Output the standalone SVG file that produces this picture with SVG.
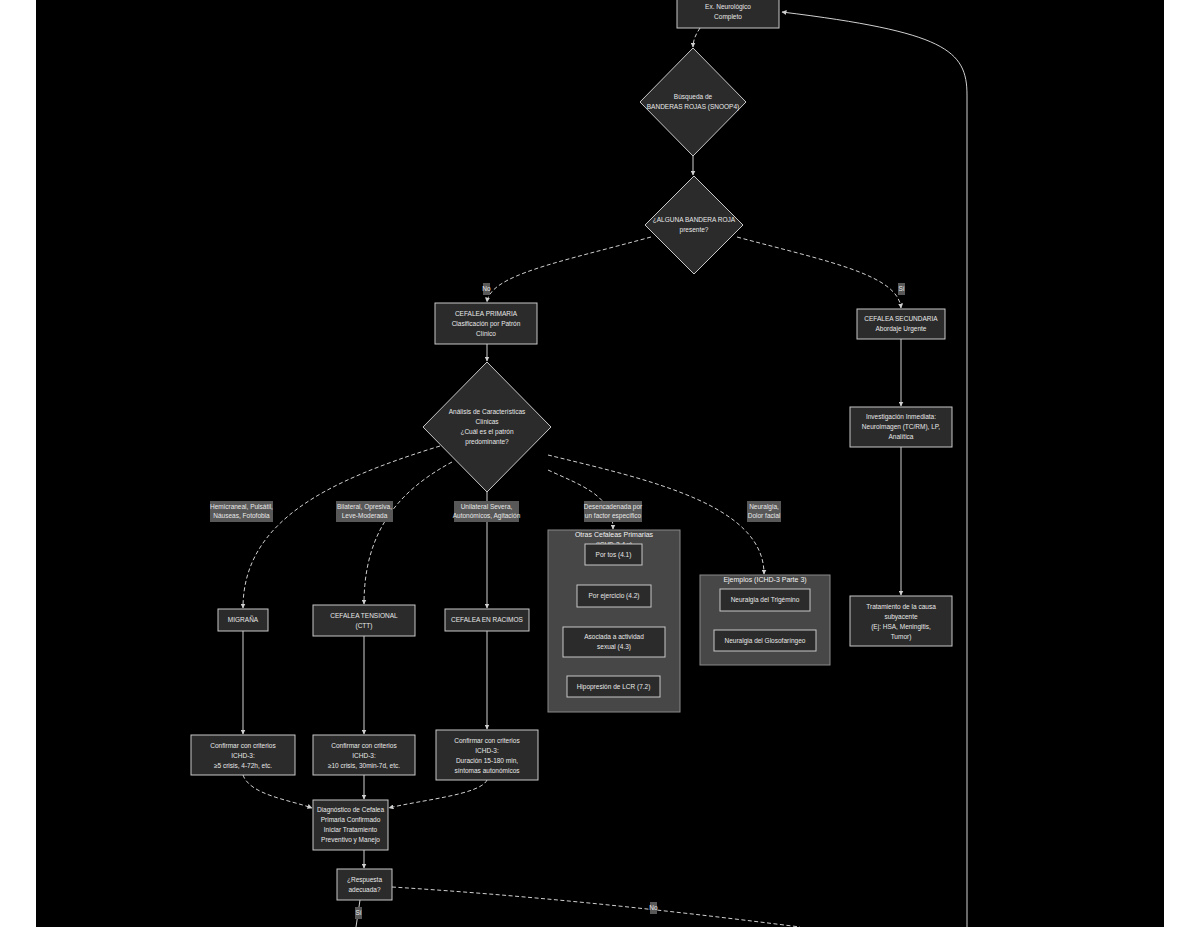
<svg xmlns="http://www.w3.org/2000/svg" width="1200" height="927" viewBox="0 0 1200 927">
<defs>
<style>
.bg{fill:#000}
.n{fill:#2b2b2b;stroke:#c8c8c8;stroke-width:1}
.t{font-family:"Liberation Sans",Arial,sans-serif;font-size:6.5px;fill:#e8e8e8;text-anchor:middle}
.e{fill:none;stroke:#d0d0d0;stroke-width:1}
.d{stroke-dasharray:4 2.5}
.lb{fill:#585858}
.cl{fill:#474747;stroke:#8a8a8a;stroke-width:1}
.ct{font-family:"Liberation Sans",Arial,sans-serif;font-size:7px;fill:#f2f2f2;text-anchor:middle}
</style>
<marker id="a" viewBox="0 0 10 10" refX="9" refY="5" markerWidth="5" markerHeight="5" orient="auto"><path d="M0,0 L10,5 L0,10 z" fill="#d0d0d0"/></marker>
</defs>
<rect x="0" y="0" width="1200" height="927" fill="#fff"/>
<rect x="36" y="0" width="1128" height="927" class="bg"/>

<g id="clusters">
<g id="cluster-otras">
<rect class="cl" x="548" y="530" width="132" height="182"/>
<text class="ct" x="614" y="537">Otras Cefaleas Primarias</text>
<text class="t" x="614" y="547">(ICHD-3 4.x)</text>
</g>
<g id="cluster-ejemplos">
<rect class="cl" x="700" y="575" width="130" height="90"/>
<text class="ct" x="765" y="582">Ejemplos (ICHD-3 Parte 3)</text>
</g>
</g>

<g id="connectors">
<path class="e d" d="M700,28 C696,34 693,40 693,47" marker-end="url(#a)"/>
<path class="e" d="M693,156 L693,175" marker-end="url(#a)"/>
<path class="e d" d="M651,237 C560,262 490,275 487,302" marker-end="url(#a)"/>
<path class="e d" d="M737,237 C830,262 898,275 901,308" marker-end="url(#a)"/>
<path class="e" d="M487,344 L487,361" marker-end="url(#a)"/>
<path class="e" d="M901,339 L901,406" marker-end="url(#a)"/>
<path class="e" d="M901,447 L901,595" marker-end="url(#a)"/>
<path class="e d" d="M440,446 C330,480 243,520 243,608" marker-end="url(#a)"/>
<path class="e d" d="M452,462 C400,490 364,530 364,604" marker-end="url(#a)"/>
<path class="e" d="M487,492 L487,608" marker-end="url(#a)"/>
<path class="e d" d="M548,470 C580,485 613,495 613,529" marker-end="url(#a)"/>
<path class="e d" d="M548,455 C650,480 764,505 764,574" marker-end="url(#a)"/>
<path class="e" d="M243,631 L243,734" marker-end="url(#a)"/>
<path class="e" d="M364,636 L364,734" marker-end="url(#a)"/>
<path class="e" d="M487,631 L487,729" marker-end="url(#a)"/>
<path class="e d" d="M243,775 C250,795 290,800 312,808" marker-end="url(#a)"/>
<path class="e" d="M364,775 L364,799" marker-end="url(#a)"/>
<path class="e d" d="M487,780 C480,795 420,800 389,808" marker-end="url(#a)"/>
<path class="e" d="M364,850 L364,868" marker-end="url(#a)"/>
<path class="e" d="M360,900 L356,927"/>
<path class="e d" d="M392,887 C520,895 650,908 800,927"/>
<path class="e" d="M967,927 L967,95 C967,50 945,32 782,12" marker-end="url(#a)"/>
<rect class="lb" x="483" y="283" width="7" height="12"/>
<text class="t" x="486.5" y="291">No</text>
<rect class="lb" x="898" y="283" width="7" height="12"/>
<text class="t" x="901.5" y="291">Sí</text>
<rect class="lb" x="210" y="501" width="63" height="21"/>
<text class="t" x="241.5" y="509">Hemicraneal, Pulsátil,</text>
<text class="t" x="241.5" y="518">Náuseas, Fotofobia</text>
<rect class="lb" x="336" y="501" width="57" height="21"/>
<text class="t" x="364.5" y="509">Bilateral, Opresiva,</text>
<text class="t" x="364.5" y="518">Leve-Moderada</text>
<rect class="lb" x="454" y="501" width="65" height="21"/>
<text class="t" x="486.5" y="509">Unilateral Severa,</text>
<text class="t" x="486.5" y="518">Autonómicos, Agitación</text>
<rect class="lb" x="584" y="501" width="58" height="21"/>
<text class="t" x="613" y="509">Desencadenada por</text>
<text class="t" x="613" y="518">un factor específico</text>
<rect class="lb" x="747" y="501" width="34" height="21"/>
<text class="t" x="764" y="509">Neuralgia,</text>
<text class="t" x="764" y="518">Dolor facial</text>
<rect class="lb" x="355" y="907" width="7" height="12"/>
<text class="t" x="358.5" y="915">Sí</text>
<rect class="lb" x="650" y="902" width="7" height="12"/>
<text class="t" x="653.5" y="910">No</text>
</g>

<g id="n-inicio">
<rect class="n" x="677" y="-22" width="102" height="50"/>
<text class="t" x="728" y="9">Ex. Neurológico</text>
<text class="t" x="728" y="19">Completo</text>
</g>
<g id="n-banderas">
<polygon class="n" points="693,48 746,102 693,156 640,102"/>
<text class="t" x="693" y="99">Búsqueda de</text>
<text class="t" x="693" y="109">BANDERAS ROJAS (SNOOP4)</text>
</g>
<g id="n-hay-bandera">
<polygon class="n" points="694,176 743,225 694,274 645,225"/>
<text class="t" x="694" y="222">¿ALGUNA BANDERA ROJA</text>
<text class="t" x="694" y="232">presente?</text>
</g>
<g id="n-primaria">
<rect class="n" x="435" y="303" width="102" height="41"/>
<text class="t" x="486" y="316">CEFALEA PRIMARIA</text>
<text class="t" x="486" y="326">Clasificación por Patrón</text>
<text class="t" x="486" y="336">Clínico</text>
</g>
<g id="n-secundaria">
<rect class="n" x="857" y="309" width="88" height="30"/>
<text class="t" x="901" y="321">CEFALEA SECUNDARIA</text>
<text class="t" x="901" y="331">Abordaje Urgente</text>
</g>
<g id="n-analisis">
<polygon class="n" points="487,362 551,427 487,492 423,427"/>
<text class="t" x="487" y="414">Análisis de Características</text>
<text class="t" x="487" y="424">Clínicas</text>
<text class="t" x="487" y="434">¿Cuál es el patrón</text>
<text class="t" x="487" y="444">predominante?</text>
</g>
<g id="n-investigacion">
<rect class="n" x="850" y="407" width="102" height="40"/>
<text class="t" x="901" y="419">Investigación Inmediata:</text>
<text class="t" x="901" y="429">Neuroimagen (TC/RM), LP,</text>
<text class="t" x="901" y="439">Analítica</text>
</g>
<g id="n-tratamiento">
<rect class="n" x="850" y="596" width="102" height="50"/>
<text class="t" x="901" y="609">Tratamiento de la causa</text>
<text class="t" x="901" y="619">subyacente</text>
<text class="t" x="901" y="629">(Ej: HSA, Meningitis,</text>
<text class="t" x="901" y="639">Tumor)</text>
</g>
<g id="n-migrana">
<rect class="n" x="218" y="609" width="50" height="22"/>
<text class="t" x="243" y="622">MIGRAÑA</text>
</g>
<g id="n-ctt">
<rect class="n" x="313" y="605" width="102" height="31"/>
<text class="t" x="364" y="618">CEFALEA TENSIONAL</text>
<text class="t" x="364" y="628">(CTT)</text>
</g>
<g id="n-racimos">
<rect class="n" x="445" y="609" width="84" height="22"/>
<text class="t" x="487" y="622">CEFALEA EN RACIMOS</text>
</g>
<g id="n-tos">
<rect class="n" x="585" y="544" width="57" height="21"/>
<text class="t" x="613.5" y="557">Por tos (4.1)</text>
</g>
<g id="n-ejercicio">
<rect class="n" x="577" y="585" width="74" height="22"/>
<text class="t" x="614" y="598">Por ejercicio (4.2)</text>
</g>
<g id="n-sexual">
<rect class="n" x="563" y="627" width="102" height="30"/>
<text class="t" x="614" y="639">Asociada a actividad</text>
<text class="t" x="614" y="649">sexual (4.3)</text>
</g>
<g id="n-lcr">
<rect class="n" x="567" y="676" width="93" height="21"/>
<text class="t" x="613.5" y="689">Hipopresión de LCR (7.2)</text>
</g>
<g id="n-trigemino">
<rect class="n" x="720" y="589" width="90" height="22"/>
<text class="t" x="765" y="602">Neuralgia del Trigémino</text>
</g>
<g id="n-glosofaringeo">
<rect class="n" x="714" y="630" width="102" height="21"/>
<text class="t" x="765" y="643">Neuralgia del Glosofaríngeo</text>
</g>
<g id="n-conf-migrana">
<rect class="n" x="191" y="735" width="104" height="40"/>
<text class="t" x="243" y="748">Confirmar con criterios</text>
<text class="t" x="243" y="758">ICHD-3:</text>
<text class="t" x="243" y="768">≥5 crisis, 4-72h, etc.</text>
</g>
<g id="n-conf-ctt">
<rect class="n" x="313" y="735" width="102" height="40"/>
<text class="t" x="364" y="748">Confirmar con criterios</text>
<text class="t" x="364" y="758">ICHD-3:</text>
<text class="t" x="364" y="768">≥10 crisis, 30min-7d, etc.</text>
</g>
<g id="n-conf-racimos">
<rect class="n" x="436" y="730" width="102" height="50"/>
<text class="t" x="487" y="743">Confirmar con criterios</text>
<text class="t" x="487" y="753">ICHD-3:</text>
<text class="t" x="487" y="763">Duración 15-180 min,</text>
<text class="t" x="487" y="773">síntomas autonómicos</text>
</g>
<g id="n-diagnostico">
<rect class="n" x="313" y="800" width="75" height="50"/>
<text class="t" x="350.5" y="812">Diagnóstico de Cefalea</text>
<text class="t" x="350.5" y="822">Primaria Confirmado</text>
<text class="t" x="350.5" y="832">Iniciar Tratamiento</text>
<text class="t" x="350.5" y="842">Preventivo y Manejo</text>
</g>
<g id="n-respuesta">
<rect class="n" x="337" y="869" width="55" height="31"/>
<text class="t" x="364.5" y="882">¿Respuesta</text>
<text class="t" x="364.5" y="892">adecuada?</text>
</g>
</svg>
